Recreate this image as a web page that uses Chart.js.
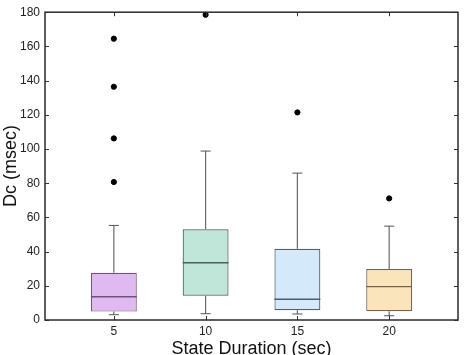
<!DOCTYPE html>
<html>
<head>
<meta charset="utf-8">
<script src="https://cdn.jsdelivr.net/npm/chart.js@4"></script>
<style>
html,body{margin:0;padding:0;background:#fff;}
#wrap{width:474px;height:355px;}
</style>
</head>
<body>
<div id="wrap"><canvas id="c" width="474" height="355"></canvas></div>
<script>
// ---- data ----
const categories = ['5', '10', '15', '20'];
const positions = [1, 2, 3, 4];
const q1 = [4.9, 14.2, 5.7, 5.1];
const median = [13.6, 33.5, 12.1, 19.5];
const q3 = [27.6, 53.0, 41.7, 29.8];
const whiskerLow = [3.1, 3.7, 3.5, 2.5];
const whiskerHigh = [55.3, 98.8, 85.9, 54.9];
const outliers = [
  [164.5, 136.4, 106.2, 80.7],
  [178.5],
  [121.4],
  [71.1]
];
const yTicks = [0, 20, 40, 60, 80, 100, 120, 140, 160, 180];

// ---- styles ----
const fills = ['#dfbaf0', '#bfe6d8', '#d4e9f9', '#f9e4bc'];
const edges = ['#6f5277', '#4d6158', '#4b5f71', '#74644b'];
const BOX_HALF = 0.25, CAP_HALF = 0.055;

// build derived series
const boxData = positions.map((p, i) => ({x: p, y: [q1[i], q3[i]]}));
const whiskerSeg = [], capSeg = [];
positions.forEach((p, i) => {
  whiskerSeg.push({x: p, y: q3[i]}, {x: p, y: whiskerHigh[i]}, {x: p + 0.01, y: null});
  whiskerSeg.push({x: p, y: q1[i]}, {x: p, y: whiskerLow[i]}, {x: p + 0.02, y: null});
  capSeg.push({x: p - CAP_HALF, y: whiskerHigh[i]}, {x: p + CAP_HALF, y: whiskerHigh[i]}, {x: p + 0.5, y: null});
  capSeg.push({x: p - CAP_HALF, y: whiskerLow[i]}, {x: p + CAP_HALF, y: whiskerLow[i]}, {x: p + 0.5, y: null});
});
const outlierPts = [];
outliers.forEach((arr, i) => arr.forEach(v => outlierPts.push({x: positions[i], y: v})));

const medianDatasets = positions.map((p, i) => ({
  type: 'line',
  data: [{x: p - BOX_HALF, y: median[i]}, {x: p + BOX_HALF, y: median[i]}],
  borderColor: edges[i], borderWidth: 1.4, pointRadius: 0, fill: false, order: 0
}));

const frameTicks = {
  id: 'frameTicks',
  afterDatasetsDraw(chart) {
    const {ctx, chartArea: a, scales: {x, y}} = chart;
    ctx.save();
    ctx.strokeStyle = '#333';
    ctx.lineWidth = 1;
    const L = 4;
    ctx.beginPath();
    yTicks.forEach(v => {
      const py = Math.round(y.getPixelForValue(v)) + 0.5;
      ctx.moveTo(a.left, py); ctx.lineTo(a.left + L, py);
      ctx.moveTo(a.right, py); ctx.lineTo(a.right - L, py);
    });
    positions.forEach(p => {
      const px = Math.round(x.getPixelForValue(p)) + 0.5;
      ctx.moveTo(px, a.top); ctx.lineTo(px, a.top + L);
      ctx.moveTo(px, a.bottom); ctx.lineTo(px, a.bottom - L);
    });
    ctx.stroke();
    ctx.lineWidth = 1.5;
    ctx.strokeStyle = '#2a2a2a';
    ctx.strokeRect(a.left, a.top, a.right - a.left, a.bottom - a.top);
    ctx.restore();
  }
};

new Chart(document.getElementById('c'), {
  data: {
    datasets: [
      {
        type: 'scatter', data: outlierPts, backgroundColor: '#000', borderColor: '#000',
        pointRadius: 2.6, pointHoverRadius: 2.6, order: 0, clip: false
      },
      ...medianDatasets,
      {
        type: 'line', data: capSeg, borderColor: '#555', borderWidth: 1,
        pointRadius: 0, spanGaps: false, fill: false, order: 1
      },
      {
        type: 'line', data: whiskerSeg, borderColor: '#6a6a6a', borderWidth: 1.2,
        pointRadius: 0, spanGaps: false, fill: false, order: 3
      },
      {
        type: 'bar', data: boxData, backgroundColor: fills, borderColor: edges,
        borderWidth: 1.2, borderSkipped: false, categoryPercentage: 1.0,
        barPercentage: 0.5, grouped: false, order: 2
      }
    ]
  },
  options: {
    responsive: false,
    animation: false,
    layout: {padding: {top: 12, right: 16, left: 0, bottom: 0}},
    plugins: {legend: {display: false}, tooltip: {enabled: false}},
    scales: {
      x: {
        type: 'linear', min: 0.25, max: 4.75, offset: false,
        afterBuildTicks: s => { s.ticks = positions.map(v => ({value: v})); },
        afterFit: s => { s.height = 35; },
        ticks: {
          callback: (v) => { const i = positions.indexOf(v); return i >= 0 ? categories[i] : ''; },
          font: {family: 'Liberation Sans', size: 12}, color: '#222', padding: 4, maxRotation: 0
        },
        grid: {display: false, drawTicks: false, offset: false},
        border: {display: false},
        title: {display: true, text: 'State Duration (sec)', font: {family: 'Liberation Sans', size: 18},
          color: '#111', padding: {top: 0, bottom: -5}}
      },
      y: {
        type: 'linear', min: 0, max: 180,
        afterBuildTicks: s => { s.ticks = yTicks.map(v => ({value: v})); },
        afterFit: s => { s.width = 45; },
        ticks: {font: {family: 'Liberation Sans', size: 12}, color: '#222', padding: 5},
        grid: {display: false, drawTicks: false},
        border: {display: false},
        title: {display: true, text: 'Dc (msec)', font: {family: 'Liberation Sans', size: 18},
          color: '#111', padding: {top: 0, bottom: 0}}
      }
    }
  },
  plugins: [frameTicks]
});
</script>
</body>
</html>
